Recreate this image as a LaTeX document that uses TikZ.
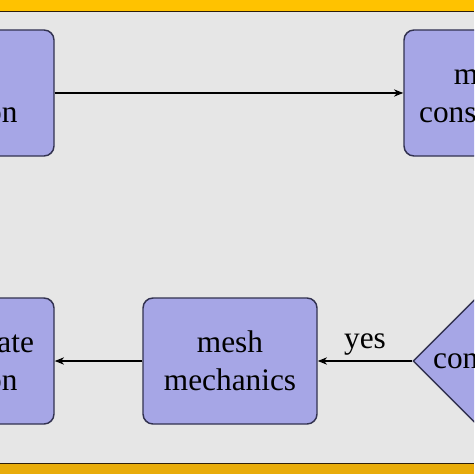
\documentclass[tikz,border=0pt]{standalone}
\usepackage{fontspec}
\setmainfont{Liberation Serif}
\usetikzlibrary{shapes.geometric,arrows.meta}
\definecolor{bgray}{RGB}{230,230,230}
\definecolor{goldtop}{RGB}{255,194,0}
\definecolor{goldbot}{RGB}{232,172,10}
\definecolor{nodefill}{RGB}{166,166,230}
\definecolor{nodeline}{RGB}{50,50,80}
\definecolor{rimline}{RGB}{45,30,10}
\begin{document}
\begin{tikzpicture}[x=0.75pt,y=-0.75pt,
  bigfont/.style={font=\fontsize{23.5}{28.5}\selectfont},
  proc/.style={bigfont, draw=nodeline, fill=nodefill, line width=1.1pt,
    rounded corners=7.5pt, minimum width=130.5pt, minimum height=94.5pt,
    align=center, inner sep=0pt},
  decision/.style={bigfont, diamond, aspect=1, draw=nodeline, fill=nodefill,
    line width=1.1pt, minimum width=138pt, minimum height=138pt, inner sep=0pt},
  flow/.style={-{Stealth[length=7pt,width=5.5pt]}, line width=0.9pt},
  lbl/.style={bigfont, inner sep=4pt}]
\useasboundingbox (0,0) rectangle (474,474);
\clip (0,0) rectangle (474,474);
% frame
\fill[goldtop] (0,0) rectangle (474,11);
\fill[goldbot] (0,463) rectangle (474,474);
\fill[bgray] (0,12) rectangle (474,463);
\draw[rimline, line width=1.4pt] (0,11.5) -- (474,11.5);
\draw[rimline, line width=1.4pt] (0,463.5) -- (474,463.5);
% nodes
\node[proc] (flow) at (-33,93) {flow\\ solution};
\node[proc, minimum width=124.5pt] (cons) at (487,93) {mesh\\ constraints};
\node[proc] (mech) at (230,361) {mesh\\ mechanics};
\node[proc] (interp) at (-33,361) {interpolate\\ solution};
\node[decision] (conv) at (505,361) {converged?};
% connectors
\draw[flow] (flow) -- (cons);
\draw[flow] (conv) -- node[lbl, above] {yes} (mech);
\draw[flow] (mech) -- (interp);
\end{tikzpicture}
\end{document}
